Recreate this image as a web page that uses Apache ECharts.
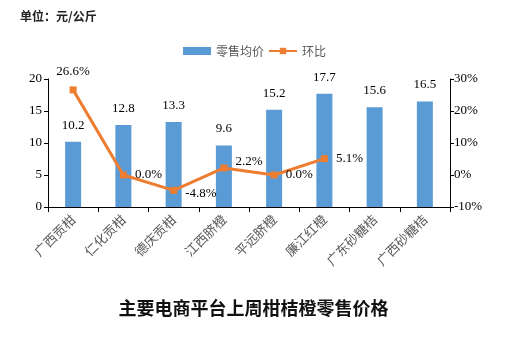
<!DOCTYPE html>
<html>
<head>
<meta charset="utf-8">
<script src="https://cdn.jsdelivr.net/npm/echarts@6/dist/echarts.min.js"></script>
<style>
  html, body { margin: 0; padding: 0; background: #fff; }
  #chart { width: 507px; height: 337px; }
</style>
</head>
<body>
<div id="chart"></div>
<script>
var categories = ['广西贡柑', '仁化贡柑', '德庆贡柑', '江西脐橙', '平远脐橙', '廉江红橙', '广东砂糖桔', '广西砂糖桔'];
var prices = [10.2, 12.8, 13.3, 9.6, 15.2, 17.7, 15.6, 16.5];
var changes = [26.6, 0.0, -4.8, 2.2, 0.0, 5.1, null, null];
var leftTicks = { min: 0, max: 20, interval: 5 };
var rightTicks = { min: -10, max: 30, interval: 10 };

var serif = '"Liberation Serif", "Times New Roman", serif';
var cjk = '"Noto Sans CJK SC", sans-serif';

// first point label sits above, others to the right
var lineData = changes.map(function (v, i) {
    if (v === null) return null;
    var d = { value: v };
    if (i === 0) d.label = { position: 'top', offset: [0, 0] };
    if (i === 2) d.label = { position: 'right', offset: [0, 3] };
    if (i === 3) d.label = { position: 'right', offset: [0, -6] };
    return d;
});

var chart = echarts.init(document.getElementById('chart'));
chart.setOption({
    animation: false,
    title: [{
        text: '单位：元/公斤',
        left: 15, top: 5,
        textStyle: { fontFamily: cjk, fontSize: 12, fontWeight: 'bold', color: '#222' }
    }, {
        text: '主要电商平台上周柑桔橙零售价格',
        left: 'center', top: 294,
        textStyle: { fontFamily: cjk, fontSize: 18, fontWeight: 'bold', color: '#111' }
    }],
    legend: {
        top: 40, left: 178,
        itemGap: 4,
        textStyle: { fontFamily: cjk, fontSize: 12, color: '#595959' },
        data: [
            { name: '零售均价', icon: 'rect', itemWidth: 26, itemHeight: 8 },
            { name: '环比' }
        ],
        itemWidth: 28, itemHeight: 8
    },
    grid: { left: 48, right: 57, top: 79, bottom: 130 },
    xAxis: {
        type: 'category',
        data: categories,
        axisLine: { lineStyle: { color: '#000', width: 1 } },
        axisTick: { show: true, length: 5, lineStyle: { color: '#000' } },
        axisLabel: {
            rotate: 45, margin: 10,
            fontFamily: cjk, fontSize: 13, color: '#595959'
        }
    },
    yAxis: [{
        type: 'value',
        min: leftTicks.min, max: leftTicks.max, interval: leftTicks.interval,
        axisLine: { show: true, lineStyle: { color: '#000' } },
        axisTick: { show: true, length: 4, lineStyle: { color: '#000' } },
        splitLine: { show: false },
        axisLabel: { fontFamily: serif, fontSize: 13, color: '#000', margin: 6 }
    }, {
        type: 'value',
        min: rightTicks.min, max: rightTicks.max, interval: rightTicks.interval,
        axisLine: { show: true, lineStyle: { color: '#000' } },
        axisTick: { show: true, length: 4, lineStyle: { color: '#000' } },
        splitLine: { show: false },
        axisLabel: { fontFamily: serif, fontSize: 13, color: '#000', margin: 4, formatter: '{value}%' }
    }],
    series: [{
        name: '零售均价',
        type: 'bar',
        data: prices,
        barWidth: 16,
        itemStyle: { color: '#5B9BD5' },
        label: {
            show: true, position: 'top', distance: 10,
            fontFamily: serif, fontSize: 13, color: '#000',
            formatter: function (p) { return p.value.toFixed(1); }
        }
    }, {
        name: '环比',
        type: 'line',
        yAxisIndex: 1,
        data: lineData,
        connectNulls: false,
        symbol: 'rect',
        symbolSize: 7,
        lineStyle: { color: '#ED7D31', width: 3 },
        itemStyle: { color: '#ED7D31' },
        label: {
            show: true, position: 'right', distance: 8,
            fontFamily: serif, fontSize: 13, color: '#000',
            formatter: function (p) { return p.value.toFixed(1) + '%'; }
        }
    }]
});
</script>
</body>
</html>
